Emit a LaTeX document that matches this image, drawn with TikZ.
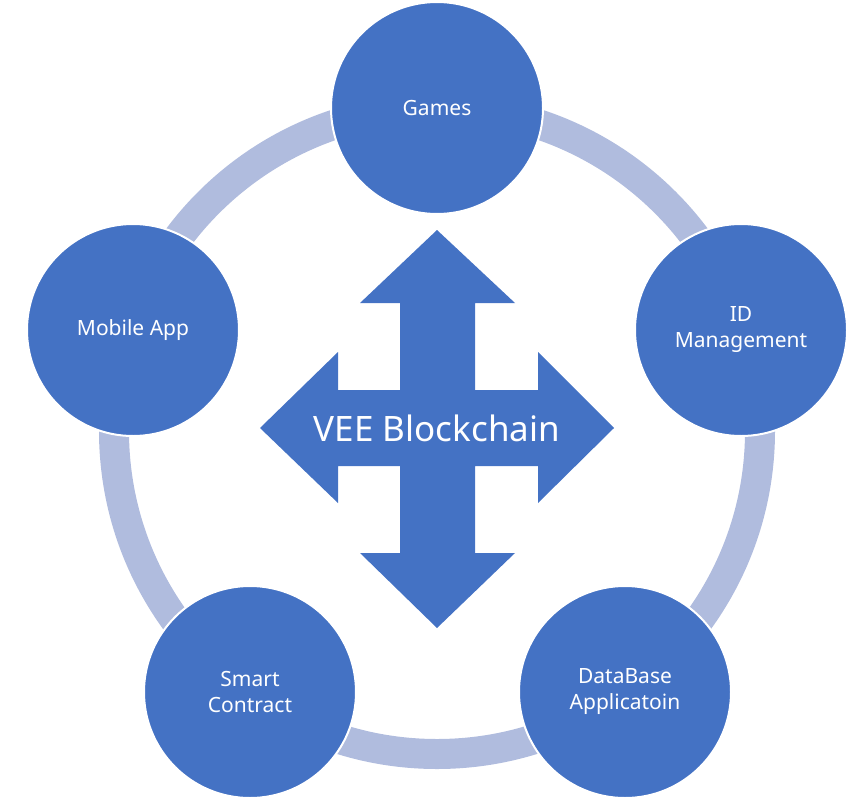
\documentclass[tikz,border=0pt]{standalone}
\usepackage{fontspec}
\setmainfont{Noto Sans}
\definecolor{blu}{HTML}{4472C4}
\definecolor{ring}{HTML}{B0BCDE}
\begin{document}
\begin{tikzpicture}[x=1pt,y=-1pt,
  bub/.style={circle,fill=blu,draw=white,line width=2pt,minimum size=212pt,inner sep=0pt,text=white,font=\fontsize{21}{26}\selectfont,align=center}]
\useasboundingbox (0,0) rectangle (864,803);
\draw[ring,line width=30pt] (437,431) circle[radius=323];
\fill[blu] (437,230)--(515,303)--(475,303)--(475,390)--(538,390)--(538,352)--(614,428)--(538,503)--(538,466)--(475,466)--(475,553)--(515,553)--(437,628)--(360,553)--(400,553)--(400,466)--(338,466)--(338,503)--(260,428)--(338,352)--(338,390)--(400,390)--(400,303)--(360,303)--cycle;
\node[text=white,font=\fontsize{35}{40}\selectfont] (vee) at (437,428) {VEE Blockchain};
\node[bub] (g) at (437,108) {Games};
\node[bub] (id) at (741,330) {ID\\Management};
\node[bub] (db) at (625,692) {DataBase\\Applicatoin};
\node[bub] (sc) at (250,692) {Smart\\Contract};
\node[bub] (ma) at (133,330) {Mobile App};
\end{tikzpicture}
\end{document}
